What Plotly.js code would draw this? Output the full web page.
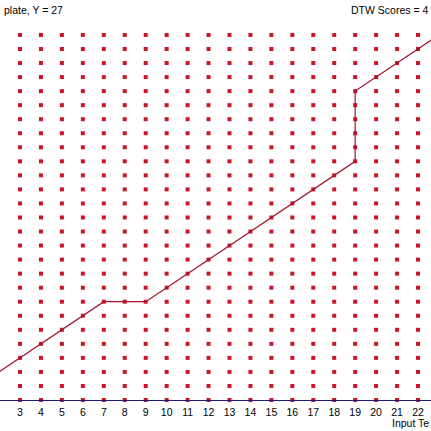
<!DOCTYPE html>
<html>
<head>
<meta charset="utf-8">
<script src="https://cdn.plot.ly/plotly-3.0.1.min.js"></script>
<style>
  html, body { margin: 0; padding: 0; background: #ffffff; }
  #chart { width: 431px; height: 431px; }
</style>
</head>
<body>
<div id="chart"></div>
<script>
"use strict";

// Lattice of input frames (x) against template frames (y).
const gridX = [0, 1, 2, 3, 4, 5, 6, 7, 8, 9, 10, 11, 12, 13, 14, 15, 16, 17, 18, 19, 20, 21, 22, 23];
const gridY = [0, 1, 2, 3, 4, 5, 6, 7, 8, 9, 10, 11, 12, 13, 14, 15, 16, 17, 18, 19, 20, 21, 22, 23, 24, 25, 26];

// Warping path.
const pathX = [0, 1, 2, 3, 4, 5, 6, 7, 8, 9, 10, 11, 12, 13, 14, 15, 16, 17, 18, 19, 19, 19, 19, 19, 19, 20, 21, 22, 23];
const pathY = [0, 1, 2, 3, 4, 5, 6, 7, 7, 7, 8, 9, 10, 11, 12, 13, 14, 15, 16, 17, 18, 19, 20, 21, 22, 23, 24, 25, 26];

const tickVals = [3, 4, 5, 6, 7, 8, 9, 10, 11, 12, 13, 14, 15, 16, 17, 18, 19, 20, 21, 22];

const leftTitle = "plate, Y = 27";
const rightTitle = "DTW Scores = 4";
const xTitle = "Input Te";

const DOT = "#cc1426";
const PATH = "#a3132e";
const AXIS = "#1c1c72";

// Cartesian product of the lattice, one marker per cell.
const dotX = [];
const dotY = [];
for (const gx of gridX) {
  for (const gy of gridY) {
    dotX.push(gx);
    dotY.push(gy);
  }
}

const traces = [
  {
    type: "scatter",
    mode: "markers",
    x: dotX,
    y: dotY,
    cliponaxis: false,
    marker: { symbol: "square", size: 4, color: DOT, line: { width: 0 } },
    hoverinfo: "skip",
  },
  {
    type: "scatter",
    mode: "lines",
    x: pathX,
    y: pathY,
    line: { color: PATH, width: 1.2 },
    hoverinfo: "skip",
  },
];

const textFont = { family: "Liberation Sans, Arial, sans-serif", size: 10.5, color: "#000000" };

const layout = {
  width: 431,
  height: 431,
  paper_bgcolor: "#ffffff",
  plot_bgcolor: "#ffffff",
  showlegend: false,
  margin: { l: 0, r: 0, t: 0, b: 31, pad: 0 },
  font: textFont,
  xaxis: {
    range: [2.045, 22.62],
    tickmode: "array",
    tickvals: tickVals,
    ticktext: tickVals.map(String),
    ticks: "outside",
    ticklen: 2,
    tickcolor: "rgba(0,0,0,0)",
    tickfont: textFont,
    showgrid: false,
    zeroline: false,
    showline: true,
    linecolor: AXIS,
    linewidth: 1,
    fixedrange: true,
  },
  yaxis: {
    range: [0, 28.49],
    showgrid: false,
    zeroline: false,
    showline: false,
    showticklabels: false,
    ticks: "",
    fixedrange: true,
  },
  annotations: [
    {
      text: leftTitle,
      xref: "paper", yref: "paper",
      x: 0.004, y: 0.975,
      xanchor: "left", yanchor: "middle",
      showarrow: false,
      font: textFont,
    },
    {
      text: rightTitle,
      xref: "paper", yref: "paper",
      x: 0.997, y: 0.975,
      xanchor: "right", yanchor: "middle",
      showarrow: false,
      font: textFont,
    },
    {
      text: xTitle,
      xref: "paper", yref: "paper",
      x: 1, y: -0.0585,
      xanchor: "right", yanchor: "middle",
      showarrow: false,
      font: textFont,
    },
  ],
};

Plotly.newPlot("chart", traces, layout, { displayModeBar: false, staticPlot: true });
</script>
</body>
</html>
